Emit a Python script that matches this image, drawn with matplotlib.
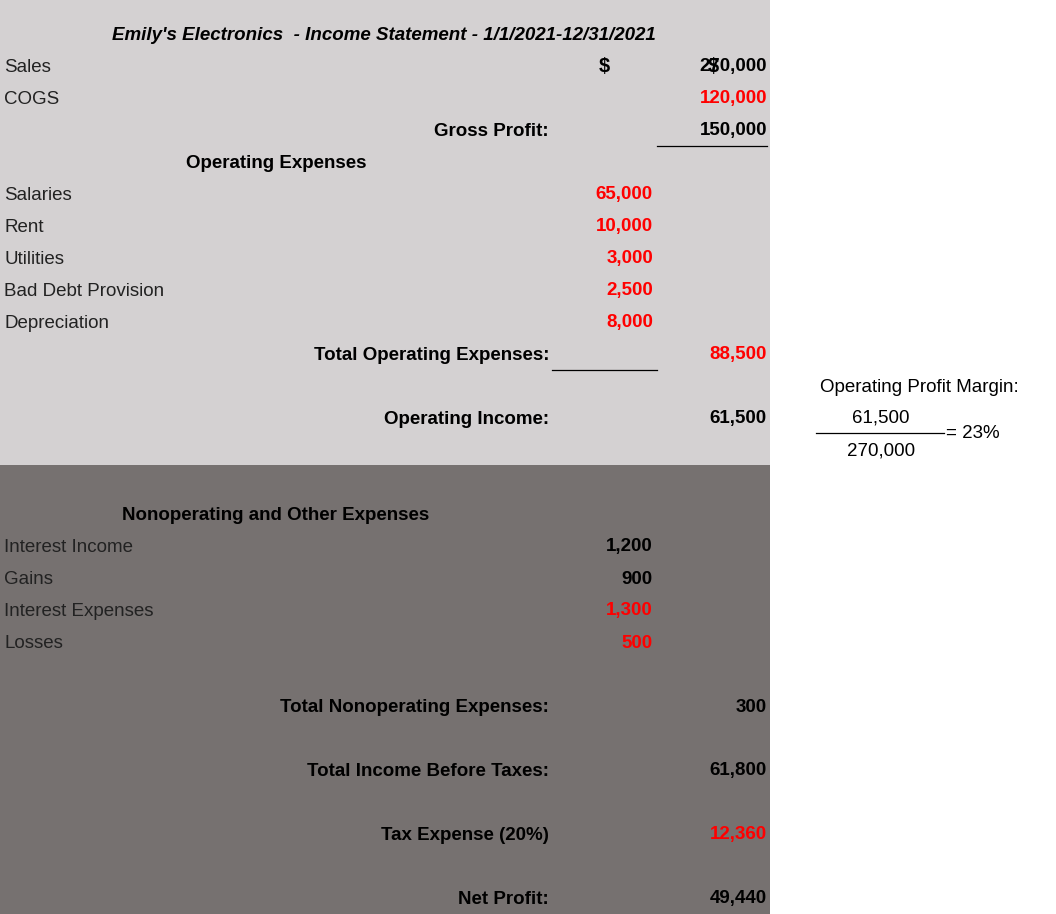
import matplotlib
matplotlib.use("Agg")
import matplotlib.pyplot as plt

title = "Emily's Electronics  - Income Statement - 1/1/2021-12/31/2021"
left_labels = ["Sales", "COGS", "Salaries", "Rent", "Utilities", "Bad Debt Provision", "Depreciation",
               "Interest Income", "Gains", "Interest Expenses", "Losses"]
left_rows = [1, 2, 5, 6, 7, 8, 9, 16, 17, 18, 19]
bold_labels = ["Gross Profit:", "Total Operating Expenses:", "Operating Income:",
               "Total Nonoperating Expenses:", "Total Income Before Taxes:", "Tax Expense (20%)", "Net Profit:"]
bold_rows = [3, 10, 12, 21, 23, 25, 27]
col1_values = ["65,000", "10,000", "3,000", "2,500", "8,000", "1,200", "900", "1,300", "500"]
col1_rows = [5, 6, 7, 8, 9, 16, 17, 18, 19]
col1_red = [True, True, True, True, True, False, False, True, True]
col2_values = ["270,000", "120,000", "150,000", "88,500", "61,500", "300", "61,800", "12,360", "49,440"]
col2_rows = [1, 2, 3, 10, 12, 21, 23, 25, 27]
col2_red = [False, True, False, True, False, False, False, True, False]

RED = "#FF0000"
FONT = "Liberation Sans"
FS = 13.5
fig = plt.figure(figsize=(10.56, 9.14), dpi=100)
ax = fig.add_axes([0, 0, 1, 1])
ax.set_xlim(0, 1056); ax.set_ylim(914, 0); ax.axis("off")

def y(r):
    return 66 + 32 * r

ax.fill_between([0, 770], 0, 465, color="#D4D1D2", lw=0)
ax.fill_between([0, 770], 465, 914, color="#767170", lw=0)

ax.text(384, 35, title, ha="center", va="center", fontsize=FS, fontweight="bold",
        fontstyle="italic", family=FONT)
ax.text(604, 67, "$", ha="center", va="center", fontsize=FS + 1, fontweight="bold", family=FONT)
ax.text(713, 67, "$", ha="center", va="center", fontsize=FS + 1, fontweight="bold", family=FONT)
for lab, r in zip(left_labels, left_rows):
    ax.text(4, y(r) + 1, lab, ha="left", va="center", fontsize=FS, family=FONT, color="#222222")
ax.text(276, y(3) + 1, "Operating Expenses", ha="center", va="center", fontsize=FS, fontweight="bold", family=FONT)
ax.text(276, y(14) + 1, "Nonoperating and Other Expenses", ha="center", va="center", fontsize=FS,
        fontweight="bold", family=FONT)
for lab, r in zip(bold_labels, bold_rows):
    ax.text(549, y(r - 1) + 1, lab, ha="right", va="center", fontsize=FS, fontweight="bold", family=FONT)
for v, r, red in zip(col1_values, col1_rows, col1_red):
    ax.text(653, y(r - 1) + 1, v, ha="right", va="center", fontsize=FS, fontweight="bold",
            color=RED if red else "black", family=FONT)
for v, r, red in zip(col2_values, col2_rows, col2_red):
    ax.text(767, y(r - 1) + 1, v, ha="right", va="center", fontsize=FS, fontweight="bold",
            color=RED if red else "black", family=FONT)
# left labels use same row scheme
ax.texts[3:3 + len(left_labels)]
for t, r in zip(ax.texts[3:3 + len(left_labels)], left_rows):
    t.set_y(y(r - 1) + 1)
ax.plot([657, 767], [146, 146], color="black", lw=0.9)
ax.plot([552, 657], [370, 370], color="black", lw=0.9)

# side calculation
ax.text(820, 387, "Operating Profit Margin:", ha="left", va="center", fontsize=FS, family=FONT)
ax.text(881, 418, "61,500", ha="center", va="center", fontsize=FS, family=FONT)
ax.text(881, 451, "270,000", ha="center", va="center", fontsize=FS, family=FONT)
ax.plot([816, 944], [433, 433], color="black", lw=0.9)
ax.text(946, 434, "= 23%", ha="left", va="center", fontsize=FS, family=FONT)

fig.savefig("out.png", dpi=100)
